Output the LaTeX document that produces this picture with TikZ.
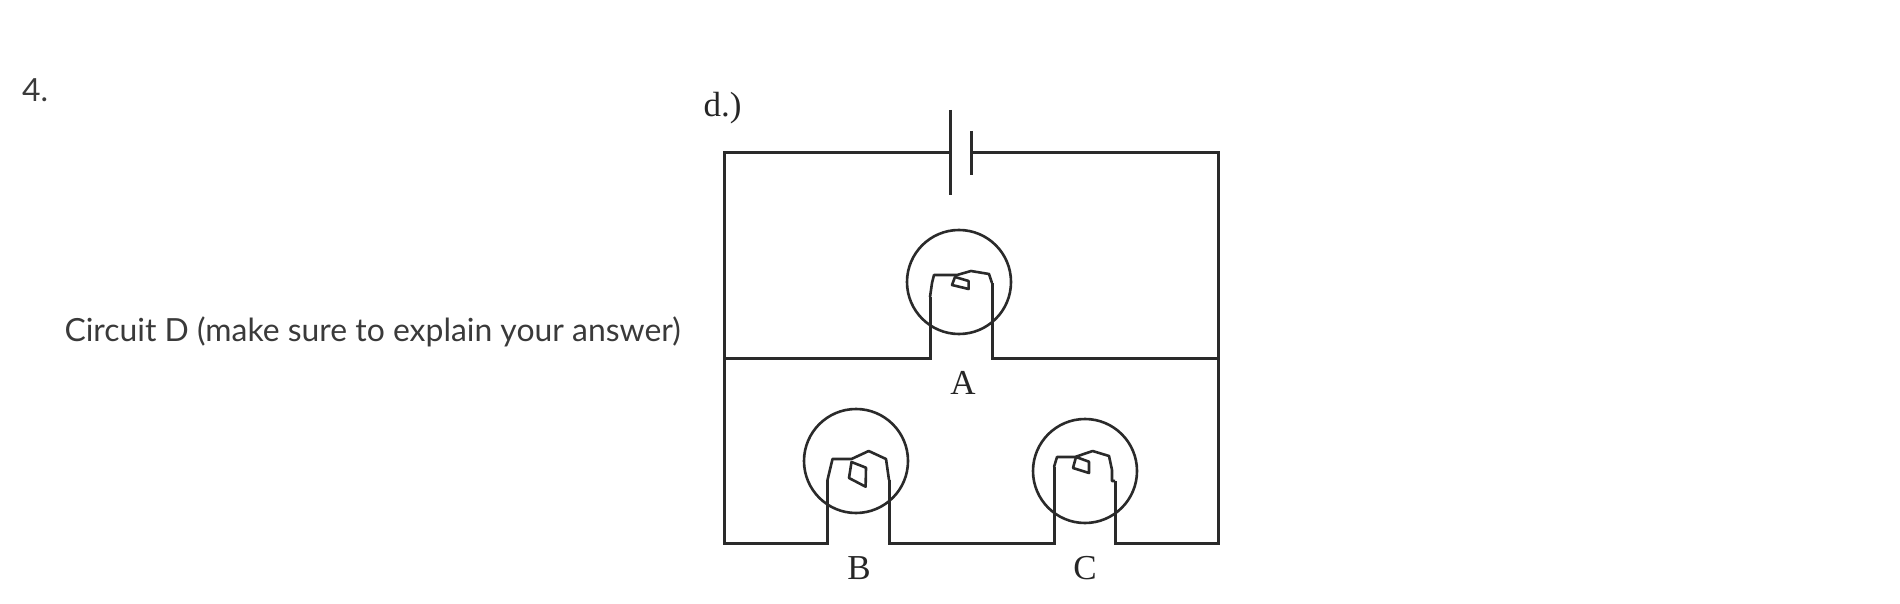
\documentclass[tikz,border=0pt]{standalone}
\usepackage{fontspec}
\setmainfont{Liberation Serif}
\newfontfamily\latofont{Lato}
\usetikzlibrary{calc}
\definecolor{inktext}{HTML}{3A3A3A}
\definecolor{inkwire}{HTML}{2A2A2A}
\tikzset{
	every path/.style={line width=1.5pt},
	wire/.style={
		draw=inkwire,
		line join=miter,
	},
	coil/.style={
		draw=inkwire,
		line width=1.3pt,
		line join=round,
	},
	bulb/.style={
		draw=inkwire,
		circle,
		line width=1.3pt,
		inner sep=0pt,
		minimum size=52pt,
	},
	caption/.style={
		font=\latofont\fontsize{15.95}{18}\selectfont,
		text=inktext,
		inner sep=0pt,
		anchor=base west,
	},
	tag/.style={
		font=\fontsize{17.5}{20}\selectfont,
		text=black!85,
		inner sep=0pt,
		anchor=base,
	},
}
\begin{document}
\begin{tikzpicture}[x=0.5pt,y=-0.5pt]

		\useasboundingbox (0,0) rectangle (1900,604);

		\node[caption] (number) at (20.5,102) {4.};
		\node[caption] (question) at (63,342) {Circuit D (make sure to explain your answer)};

		\node[tag] (letter) at (722.5,117) {d.)};
		\node[tag] (labelA) at (963,394) {A};
		\node[tag] (labelB) at (859,579) {B};
		\node[tag] (labelC) at (1085,579) {C};

		\node[bulb] (bulbA) at (959,282) {};
		\node[bulb] (bulbB) at (856,461) {};
		\node[bulb] (bulbC) at (1085,471) {};

		% outer loop corners
		\coordinate (topleft) at (724.5,152.5);
		\coordinate (topright) at (1218,152.5);
		\coordinate (midleft) at (724.5,358.5);
		\coordinate (midright) at (1218,358.5);
		\coordinate (botleft) at (724.5,543);
		\coordinate (botright) at (1218,543);

		% cell plates
		\coordinate (longtop) at (950.5,110);
		\coordinate (longbot) at (950.5,195);
		\coordinate (shorttop) at (971,131);
		\coordinate (shortbot) at (971,175);

		\draw[wire] (longtop |- topleft) -- (topleft) -- (botleft) -- (827.5,543) -- (827.5,480);
		\draw[wire] (shorttop |- topright) -- (topright) -- (botright) -- (1115,543) -- (1115,481);
		\draw[wire] (longtop) -- (longbot);
		\draw[wire] (shorttop) -- (shortbot);

		% branch with bulb A
		\draw[wire] (midleft) -- (930,358.5) -- (930,297);
		\draw[wire] (midright) -- (992,358.5) -- (992,283);
		\draw[coil] (930,297) -- (932,283) -- (934,275) -- (957,275) -- (971,271) -- (989,274) -- (992,283);
		\draw[coil] (955,277) -- (968.6,281) -- (968.6,289) -- (952,285) -- cycle;

		% branch with bulbs B and C
		\draw[wire] (889,480) -- (889,543) -- (1054,543) -- (1054,467);
		\draw[coil] (827.5,480) -- (832.5,459) -- (851.5,459) -- (868.7,451) -- (886,459) -- (889,480);
		\draw[coil] (851.5,462) -- (866,467.7) -- (865.6,486.7) -- (849,478) -- cycle;
		\draw[coil] (1054,467) -- (1057,457) -- (1075,457) -- (1092.6,451) -- (1109,456) -- (1112,470) -- (1112,481) -- (1115,481);
		\draw[coil] (1076,457) -- (1089,461.7) -- (1089,473) -- (1073,468) -- cycle;

	\end{tikzpicture}
\end{document}
